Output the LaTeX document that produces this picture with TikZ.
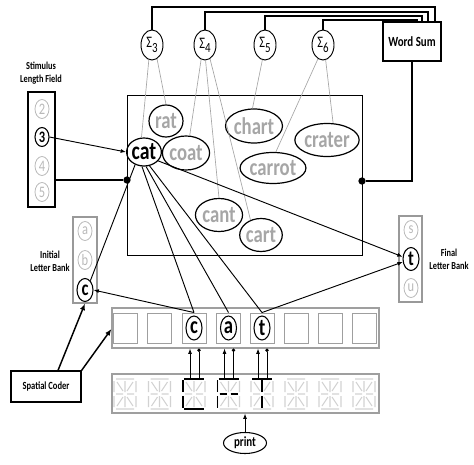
\documentclass[tikz,border=0pt]{standalone}
\usepackage{fontspec}
\setmainfont{Carlito}[FakeStretch=0.78]
\usetikzlibrary{shapes.geometric,arrows.meta,calc}
\tikzset{
 sz/.style 2 args={minimum width=#1*0.75pt,minimum height=#2*0.75pt},
 word/.style={ellipse,draw,line width=0.9pt,inner sep=0pt,text=gray!70,font=\fontsize{18}{18}\selectfont\bfseries},
 sig/.style={ellipse,draw,line width=0.7pt,inner sep=0pt,sz={22}{30},font=\fontsize{12}{12}\selectfont},
 lab/.style={font=\fontsize{8}{9.5}\selectfont\bfseries,align=center},
 gcirc/.style={ellipse,draw=gray!55,line width=0.6pt,inner sep=0pt,text=gray!55,sz={14}{19},font=\fontsize{12}{12}\selectfont},
 bcirc/.style={ellipse,draw,line width=0.8pt,inner sep=0pt,sz={16}{23},font=\fontsize{16}{16}\selectfont\bfseries},
 bank/.style={draw=black,line width=0.8pt,inner sep=0pt},
 wire/.style={line width=0.8pt},
 gline/.style={draw=gray!70,line width=0.5pt},
 catline/.style={line width=0.7pt},
 arr/.style={-{Latex[length=4pt,width=3pt]}},
 dotarr/.style={-{Circle[length=2.5pt]}},
 dotnode/.style={circle,fill,inner sep=0pt,minimum size=5.5pt},
 slot/.style={draw=gray!75,line width=0.7pt,inner sep=0pt,sz={24}{30}},
 cell/.style={inner sep=0pt,sz={24}{32}},
 segg/.style={draw=gray!35,line width=0.8pt},
 segb/.style={draw=black,line width=1.1pt},
 thickarr/.style={-{Latex[length=5pt,width=4pt]},line width=1.1pt},
 seg/.pic={
  \draw[segg] (-9,-15)--(9,-15) (-9,15)--(9,15) (-11,-13)--(-11,-2) (-11,2)--(-11,13)
   (11,-13)--(11,-2) (11,2)--(11,13) (-9,0)--(-2,0) (2,0)--(9,0) (0,-13)--(0,-2) (0,2)--(0,13)
   (-8,-12)--(-2,-3) (8,-12)--(2,-3) (-8,12)--(-2,3) (8,12)--(2,3);
 },
}
\begin{document}
\begin{tikzpicture}[x=0.75pt,y=-0.75pt]
\useasboundingbox (0,0) rectangle (474,464);
% main lexical box
\node[draw,line width=0.75pt,sz={235}{160},inner sep=0pt] (lex) at (244.5,175) {};
% sigma nodes
\node[sig] (S3) at (152,45) {Σ\raisebox{-0.55ex}{\fontsize{10.5}{10.5}\selectfont 3}};
\node[sig] (S4) at (205,45) {Σ\raisebox{-0.55ex}{\fontsize{10.5}{10.5}\selectfont 4}};
\node[sig] (S5) at (265,45) {Σ\raisebox{-0.55ex}{\fontsize{10.5}{10.5}\selectfont 5}};
\node[sig] (S6) at (323,45) {Σ\raisebox{-0.55ex}{\fontsize{10.5}{10.5}\selectfont 6}};
\node[draw,line width=0.8pt,sz={58}{39},font=\fontsize{10.5}{10.5}\selectfont\bfseries] (ws) at (412,41.5) {Word Sum};
% top wires
\draw[wire] (S3.north) |- (435,7) -- (435,7 |- ws.north);
\draw[wire] (S4.north) |- (428,12) -- (428,12 |- ws.north);
\draw[wire] (S5.north) |- (422,16) -- (422,16 |- ws.north);
\draw[wire] (S6.north) |- (417,20) -- (417,20 |- ws.north);
% words
\node[word,sz={33}{28},text=black,font=\fontsize{19}{19}\selectfont\bfseries] (cat) at (144,152) {cat};
\node[word,sz={34}{32}] (rat) at (166,121) {rat};
\node[word,sz={41}{34}] (coat) at (186,153) {coat};
\node[word,sz={50}{34}] (chart) at (254,126) {chart};
\node[word,sz={62}{33}] (crater) at (327,140) {crater};
\node[word,sz={62}{31}] (carrot) at (273,168) {carrot};
\node[word,sz={40}{33}] (cant) at (219,215) {cant};
\node[word,sz={42}{33}] (cart) at (261,235) {cart};
% sigma to word lines
\draw[gline] (S3.258) -- (cat.100);
\draw[gline] (S3.290) -- (rat.90);
\draw[gline] (S4.255) -- (coat.78);
\draw[gline] (S4.272) -- (cant.90);
\draw[gline] (S4.290) -- (cart.125);
\draw[gline] (S5.260) -- (chart.95);
\draw[gline] (S6.250) -- (carrot.80);
\draw[gline] (S6.280) -- (crater.70);
% stimulus length field
\node[lab] (stimlab) at (41,73) {Stimulus\\Length Field};
\node[bank,sz={27}{115}] (stim) at (41.5,149.5) {};
\node[gcirc] (n2) at (42,109) {2};
\node[bcirc,sz={14}{19},font=\fontsize{12}{12}\selectfont\bfseries] (n3) at (42,137) {3};
\node[gcirc] (n4) at (42,166) {4};
\node[gcirc] (n5) at (42,192) {5};
\draw[catline,arr] (n3.east) -- (cat.west);
% dots
\node[dotnode] (ldot) at (127,180) {};
\node[dotnode] (rdot) at (362,181) {};
\draw[line width=1.1pt] (stim.east |- ldot) -- (ldot);
\draw[wire] (ws.south) |- (rdot);
% initial letter bank
\node[lab] (inilab) at (50,261) {Initial\\Letter Bank};
\node[bank,draw=gray!80,sz={24}{86}] (ibank) at (85,260) {};
\node[gcirc] (ia) at (85,231) {a};
\node[gcirc] (ib) at (85,260) {b};
\node[bcirc] (ic) at (85,290) {c};
% final letter bank
\node[lab] (finlab) at (449,259) {Final\\Letter Bank};
\node[bank,draw=gray!80,sz={23}{86}] (fbank) at (410.5,259) {};
\node[gcirc] (fs) at (411,230) {s};
\node[bcirc] (ft) at (411,259) {t};
\node[gcirc] (fu) at (411,288) {u};
% slot bar
\node[draw=gray!75,line width=0.9pt,sz={267}{40},inner sep=0pt] (sbar) at (245.5,328) {};
\node[slot] (s1) at (125,328) {};
\node[slot] (s2) at (159.5,328) {};
\node[slot] (s3) at (194,328) {};
\node[slot] (s4) at (228.5,328) {};
\node[slot] (s5) at (262,328) {};
\node[slot] (s6) at (296,328) {};
\node[slot] (s7) at (330,328) {};
\node[slot] (s8) at (364,328) {};
\node[bcirc,sz={16}{24},font=\fontsize{18}{18}\selectfont\bfseries] (lc) at (s3) {c};
\node[bcirc,sz={16}{24},font=\fontsize{18}{18}\selectfont\bfseries] (la) at (s4) {a};
\node[bcirc,sz={16}{24},font=\fontsize{18}{18}\selectfont\bfseries] (lt) at (s5) {t};
% cat connections
\draw[catline] (cat.235) -- (ic.60);
\draw[catline] (cat.262) -- (s3.north);
\draw[catline] (cat.278) -- (s4.north);
\draw[catline] (cat.292) -- (s5.north);
\draw[catline,arr] (cat.328) -- (ft.165);
\draw[catline,arr] (s3.north) -- (ic.east);
\draw[catline,arr] (s5.north) -- (ft.200);
% display bar
\node[draw=gray!75,line width=0.9pt,sz={267}{39},inner sep=0pt] (disp) at (245.5,393.5) {};
\foreach \i/\cx in {1/125,2/159.5,3/194,4/228.5,5/262,6/296,7/330,8/364}{
  \node[cell] (d\i) at (\cx,394) {};
  \pic at (d\i) {seg};
}
% lit segments
\draw[segb] ($(d3)+(-10,-15)$) -- ($(d3)+(10,-15)$) ($(d3)+(-11,-14)$) -- ($(d3)+(-11,-2)$)
  ($(d3)+(-11,2)$) -- ($(d3)+(-11,14)$) ($(d3)+(-10,15)$) -- ($(d3)+(10,15)$);
\draw[segb] ($(d4)+(-10,-15)$) -- ($(d4)+(10,-15)$) ($(d4)+(-11,-14)$) -- ($(d4)+(-11,-2)$)
  ($(d4)+(-11,2)$) -- ($(d4)+(-11,14)$) ($(d4)+(-9,0)$) -- ($(d4)+(-2,0)$) ($(d4)+(2,0)$) -- ($(d4)+(9,0)$);
\draw[segb] ($(d5)+(-10,-15)$) -- ($(d5)+(10,-15)$) ($(d5)+(0,-14)$) -- ($(d5)+(0,-2)$)
  ($(d5)+(0,2)$) -- ($(d5)+(0,14)$);
% vertical feed arrows
\foreach \i in {3,4,5}{
  \coordinate (up\i) at ($(d\i.north)+(-4,0)$);
  \coordinate (dn\i) at ($(d\i.north)+(5,0)$);
  \draw[line width=0.6pt,arr] (up\i) -- (up\i |- sbar.south);
  \draw[line width=0.6pt,dotarr] (dn\i) -- (dn\i |- sbar.south);
}
% print
\node[ellipse,draw,line width=0.8pt,inner sep=0pt,sz={43}{21},font=\fontsize{10.5}{10.5}\selectfont\bfseries] (print) at (245,443) {print};
\draw[line width=0.6pt,arr] (print.north) -- (print.north |- disp.south);
% spatial coder
\node[draw,line width=0.9pt,sz={70}{31},font=\fontsize{8.2}{8.2}\selectfont\bfseries] (sc) at (46,386.5) {Spatial Coder};
\draw[thickarr] ($(sc.north)+(12,0)$) -- (ibank.south);
\draw[thickarr] (sc.north east) -- ($(sbar.west)+(0,1)$);
\end{tikzpicture}
\end{document}
